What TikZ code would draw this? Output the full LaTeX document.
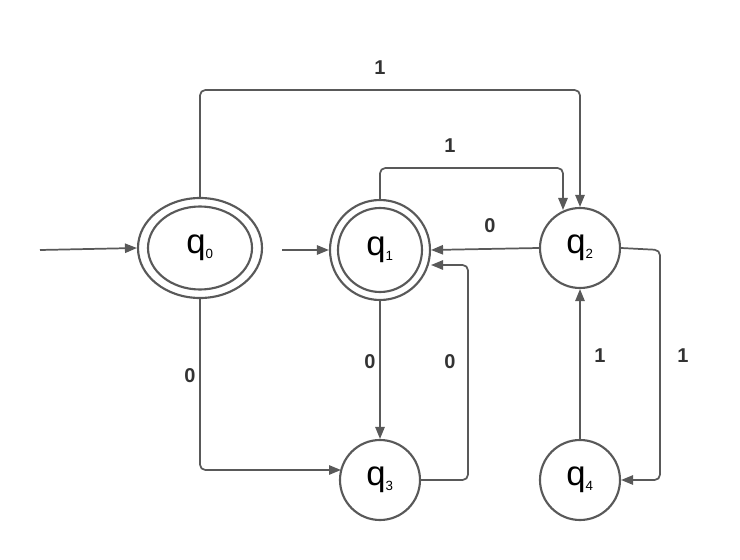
\documentclass[tikz,border=0pt]{standalone}
\usepackage{fontspec}
\setmainfont{Liberation Sans}
\usetikzlibrary{arrows.meta,shapes.geometric}
\definecolor{linegray}{HTML}{595959}
\tikzset{
  state/.style={circle,draw=linegray,line width=1.6pt,minimum size=80*0.75pt,inner sep=0pt,font=\fontsize{26}{26}\selectfont},
  edge/.style={draw=linegray,line width=1.3pt,-{Triangle[length=9pt,width=7pt]},rounded corners=4pt},
  lbl/.style={font=\bfseries\fontsize{15}{15}\selectfont,text=black!80}
}
\begin{document}
\begin{tikzpicture}[x=0.75pt,y=-0.75pt]
	\useasboundingbox (0,0) rectangle (740,560);
	% states
	\node [state,ellipse,minimum width=124*0.75pt,minimum height=100*0.75pt] (q0) at (200,248) {};
	\node [draw=linegray,line width=1.6pt,ellipse,minimum width=104*0.75pt,minimum height=83*0.75pt,font=\fontsize{26}{26}\selectfont] (q0in) at (200,248) {q\textsubscript{\normalsize 0}};
	\node [state,minimum size=100*0.75pt] (q1) at (380,250) {};
	\node [state,minimum size=84*0.75pt] (q1in) at (380,250) {q\textsubscript{\normalsize 1}};
	\node [state] (q2) at (580,248) {q\textsubscript{\normalsize 2}};
	\node [state] (q3) at (380,480) {q\textsubscript{\normalsize 3}};
	\node [state] (q4) at (580,480) {q\textsubscript{\normalsize 4}};
	\coordinate (start0) at (40,250);
	\coordinate (start1) at (282,250);

	% transitions
	\draw [edge] (start0) -- (q0.west);
	\draw [edge] (start1) -- (q1.west);
	\draw [edge] (q0.north) -- (200,90) -- (580,90) -- (q2.north);
	\draw [edge] (q1.north) -- (380,168) -- (563,168) -- (563,210);
	\draw [edge] (q2.west) -- (q1.east);
	\draw [edge] (q2.east) -- (660,250) -- (660,480) -- (q4.east);
	\draw [edge] (q4.north) -- (q2.south);
	\draw [edge] (q1.south) -- (q3.north);
	\draw [edge] (q3.east) -- (468,480) -- (468,265) -- (431,265);
	\draw [edge] (q0.south) -- (200,470) -- (341,470);

	% labels
	\node [lbl] (l1) at (380,68) {1};
	\node [lbl] (l2) at (450,146) {1};
	\node [lbl] (l3) at (490,226) {0};
	\node [lbl] (l4) at (683,356) {1};
	\node [lbl] (l5) at (600,356) {1};
	\node [lbl] (l6) at (370,362) {0};
	\node [lbl] (l7) at (450,362) {0};
	\node [lbl] (l8) at (190,376) {0};
\end{tikzpicture}
\end{document}
